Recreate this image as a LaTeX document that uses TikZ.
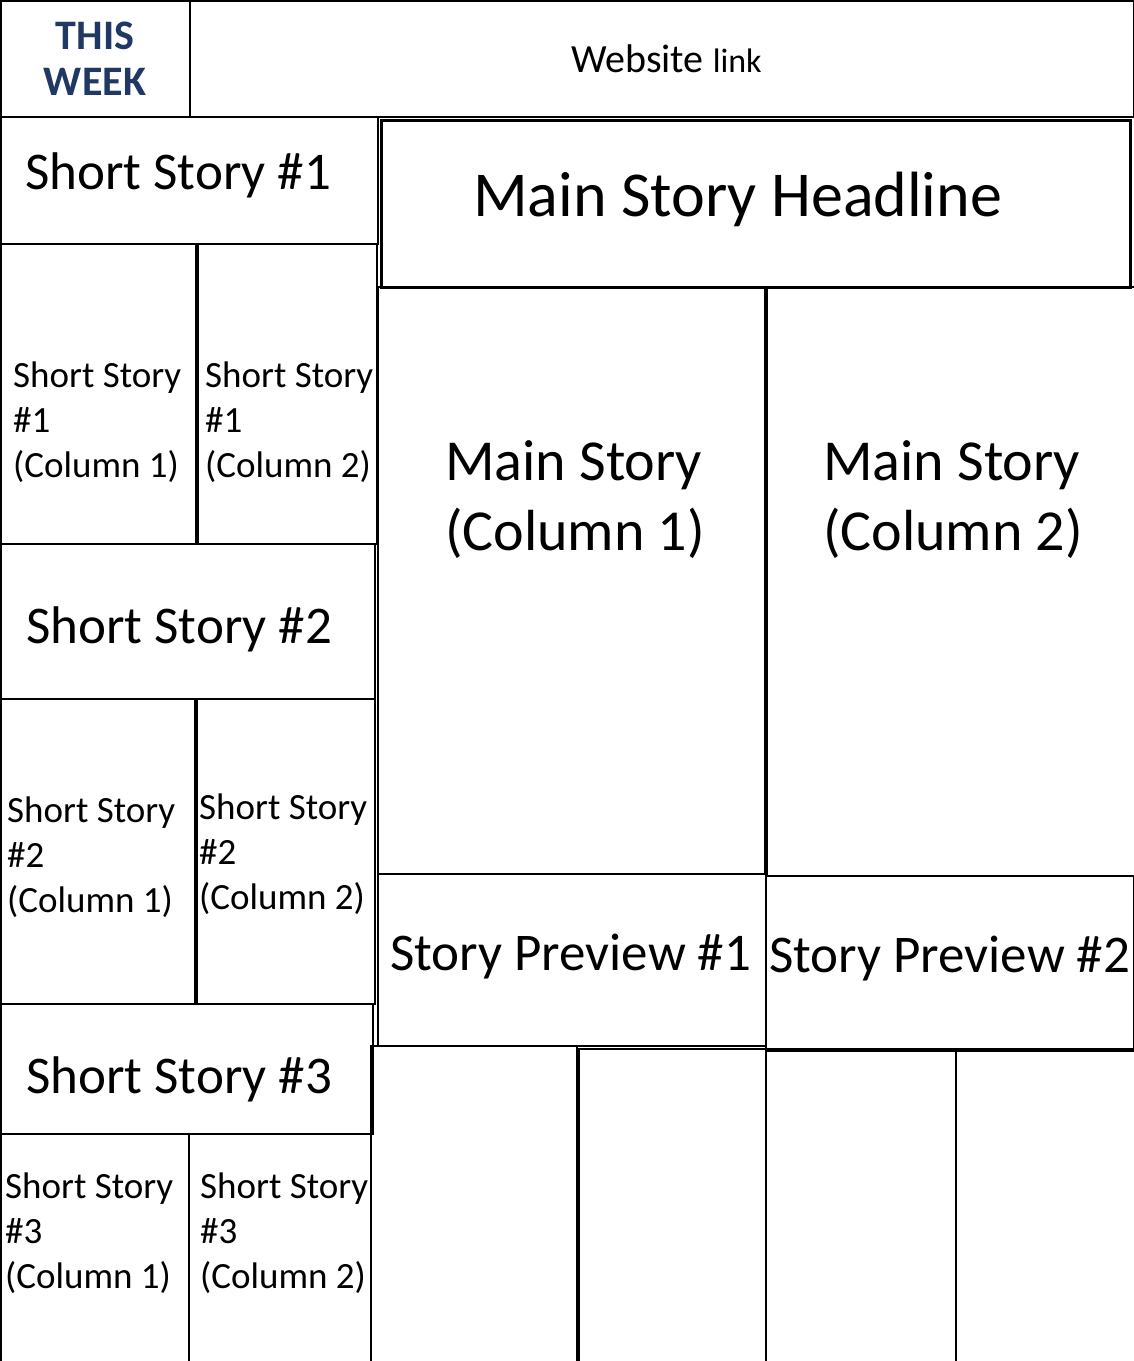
\documentclass[tikz,border=0pt]{standalone}
\usepackage{fontspec}
\setmainfont{Carlito}
\definecolor{weekblue}{RGB}{31,56,100}

\begin{document}
\begin{tikzpicture}
	[x=1pt, y=-1pt,
		panel/.style 2 args	={rectangle
									, draw=black
									, line width=1.6pt
									, anchor=north west
									, inner sep=0pt
									, minimum width=#1pt
									, minimum height=#2pt
									},
		heavy/.style		={line width=3pt
									},
		banner/.style		={anchor=base
									, inner sep=0pt
									, align=center
									, text=weekblue
									, font=\bfseries\fontsize{42}{46}\selectfont
									},
		title/.style		={anchor=base west
									, inner sep=0pt
									, font=\fontsize{53}{64}\selectfont
									},
		big/.style			={anchor=base west
									, inner sep=0pt
									, align=left
									, font=\fontsize{58}{70}\selectfont
									},
		column/.style		={anchor=base west
									, inner sep=0pt
									, align=left
									, font=\fontsize{37}{45}\selectfont
									}
	]
\useasboundingbox (0,0) rectangle (1134,1361);

% top row
\node [panel={189}{116}, line width=2pt] (this week) at (0,0) {};
\node [panel={944}{116}, line width=2pt] (website) at (189,0) {};
\node [banner] (this week text) at (95,95) {THIS\\WEEK};
\node [anchor=base west, inner sep=0pt, font=\fontsize{40}{48}\selectfont] (website text) at (571,72)
	{Website {\fontsize{34}{40}\selectfont link}};

% left column: short stories
\node [panel={377}{127}] (short 1) at (0,116) {};
\node [panel={195}{300}] (short 1 col 1) at (0,243) {};
\node [panel={179}{300}] (short 1 col 2) at (197,243) {};
\node [panel={374}{155}] (short 2) at (0,543) {};
\node [panel={194}{305}] (short 2 col 1) at (0,698) {};
\node [panel={178}{305}] (short 2 col 2) at (196,698) {};
\node [panel={372}{130}] (short 3) at (0,1003) {};
\node [panel={188}{228}] (short 3 col 1) at (0,1133) {};
\node [panel={182}{228}] (short 3 col 2) at (188,1133) {};

\node [title] (short 1 text) at (25,189) {Short Story \#1};
\node [title] (short 2 text) at (26,643) {Short Story \#2};
\node [title] (short 3 text) at (26,1093) {Short Story \#3};
\node [column] (short 1 col 1 text) at (13,477) {Short Story\\\#1\\(Column 1)};
\node [column] (short 1 col 2 text) at (205,477) {Short Story\\\#1\\(Column 2)};
\node [column] (short 2 col 1 text) at (7,912) {Short Story\\\#2\\(Column 1)};
\node [column] (short 2 col 2 text) at (199,909) {Short Story\\\#2\\(Column 2)};
\node [column] (short 3 col 1 text) at (5,1288) {Short Story\\\#3\\(Column 1)};
\node [column] (short 3 col 2 text) at (200,1288) {Short Story\\\#3\\(Column 2)};

% right side: main story
\node [panel={749}{167}, heavy] (headline) at (380,119) {};
\node [panel={387}{587}] (main col 1) at (377,286) {};
\node [panel={368}{589}] (main col 2) at (766,286) {};
\node [panel={388}{172}] (preview 1) at (377,873) {};
\node [panel={368}{173}] (preview 2) at (765,875) {};
\node [panel={206}{316}] (bottom 1) at (370,1045) {};
\node [panel={187}{313}] (bottom 2) at (578,1048) {};
\node [panel={190}{311}] (bottom 3) at (765,1050) {};
\node [panel={179}{311}] (bottom 4) at (955,1050) {};

\node [anchor=base west, inner sep=0pt, font=\fontsize{64}{76}\selectfont] (headline text) at (473,216) {Main Story Headline};
\node [big] (main col 1 text) at (445,550) {Main Story\\(Column 1)};
\node [big] (main col 2 text) at (823,550) {Main Story\\(Column 2)};
\node [title] (preview 1 text) at (390,970) {Story Preview \#1};
\node [title] (preview 2 text) at (769,972) {Story Preview \#2};
\end{tikzpicture}
\end{document}
